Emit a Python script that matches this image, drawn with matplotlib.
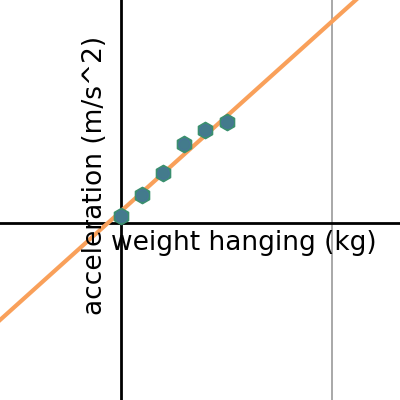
import matplotlib
matplotlib.use("Agg")
import matplotlib.pyplot as plt
import numpy as np

mass = [0.00, 0.01, 0.02, 0.03, 0.04, 0.05]
accel = [0.23, 0.93, 1.67, 2.63, 3.10, 3.37]
fit_slope = 63.1
fit_intercept = 0.40
marker_x = 0.10

fig = plt.figure(figsize=(4, 4), dpi=100)
ax = fig.add_axes([0, 0, 1, 1])
ax.set_xlim(-0.0576, 0.1324)
ax.set_ylim(-5.9, 7.43)

xs = np.array(ax.get_xlim())
ax.plot(xs, fit_slope * xs + fit_intercept, color="#f9a05a", lw=3, zorder=2)
ax.axvline(marker_x, color="#999999", lw=1.2, zorder=1)

ax.scatter(mass, accel, s=140, marker="h", color="#3a8f6f", zorder=3)
ax.scatter(mass, accel, s=70, marker="o", color="#4a6fa0", alpha=0.6, zorder=4)

ax.axhline(0, color="black", lw=2, zorder=1)
ax.axvline(0, color="black", lw=2, zorder=1)
for s in ax.spines.values():
    s.set_visible(False)
ax.set_xticks([])
ax.set_yticks([])

ax.text(0.058, -0.25, "weight hanging (kg)", fontsize=19, ha="center", va="top", zorder=5)
ax.text(-0.0125, 1.6, "acceleration (m/s^2)", fontsize=19, rotation=90,
        ha="center", va="center", zorder=5)

fig.savefig("out.png", dpi=100)
